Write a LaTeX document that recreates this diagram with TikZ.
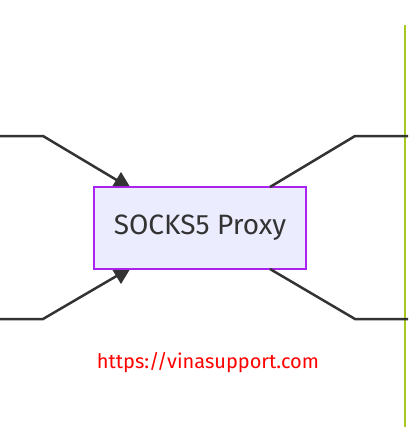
\documentclass[tikz,border=0pt]{standalone}
\usepackage{fontspec}
\setmainfont{Fira Sans}
\usetikzlibrary{positioning}

\definecolor{linegray}{HTML}{333333}
\definecolor{proxyfill}{HTML}{ECECFF}
\definecolor{proxyborder}{HTML}{AA22EE}
\definecolor{clusterline}{HTML}{A6C920}
\definecolor{urlred}{HTML}{FF0000}

\begin{document}
\begin{tikzpicture}[x=1pt,y=-1pt,
	link/.style={draw=linegray,line width=2.5pt},
	tipfill/.style={fill=linegray},
	proxybox/.style={draw=proxyborder,fill=proxyfill,line width=1.5pt,
		minimum width=212pt,minimum height=82pt,inner sep=0pt,
		font=\fontsize{28}{32}\selectfont,text=linegray}
	]
	\useasboundingbox (0,0) rectangle (408,434);
	% Cluster edge on the right
	\draw[clusterline,line width=2pt] (405,25) -- (405,427);
	% Proxy
	\node[proxybox] (proxy) at (200,228) {SOCKS5 Proxy};
	\node[text=urlred,font=\fontsize{20}{24}\selectfont] (url) at (208,363) {https://vinasupport.com};
	% Left side
	\coordinate (inA) at (0,136);
	\coordinate (bendA) at (43,136);
	\coordinate (inB) at (0,319);
	\coordinate (bendB) at (43,319);
	\coordinate (endA) at (120,182);
	\coordinate (endB) at (120,274);
	\coordinate (tipA) at (121,187);
	\coordinate (tipB) at (121,269);
	\draw[link] (inA) -- (bendA) -- (endA);
	\draw[link] (inB) -- (bendB) -- (endB);
	\fill[tipfill] (tipA) ++(-8.5,-1) -- ++(8.5,-14) -- ++(8.5,14) -- cycle;
	\fill[tipfill] (tipB) ++(-8.5,1) -- ++(8.5,14) -- ++(8.5,-14) -- cycle;
	% Right side
	\coordinate (outA) at (270,187);
	\coordinate (outB) at (270,269);
	\coordinate (bendC) at (355,136);
	\coordinate (bendD) at (355,319);
	\coordinate (exitA) at (408,136);
	\coordinate (exitB) at (408,319);
	\draw[link] (outA) -- (bendC) -- (exitA);
	\draw[link] (outB) -- (bendD) -- (exitB);
\end{tikzpicture}
\end{document}
